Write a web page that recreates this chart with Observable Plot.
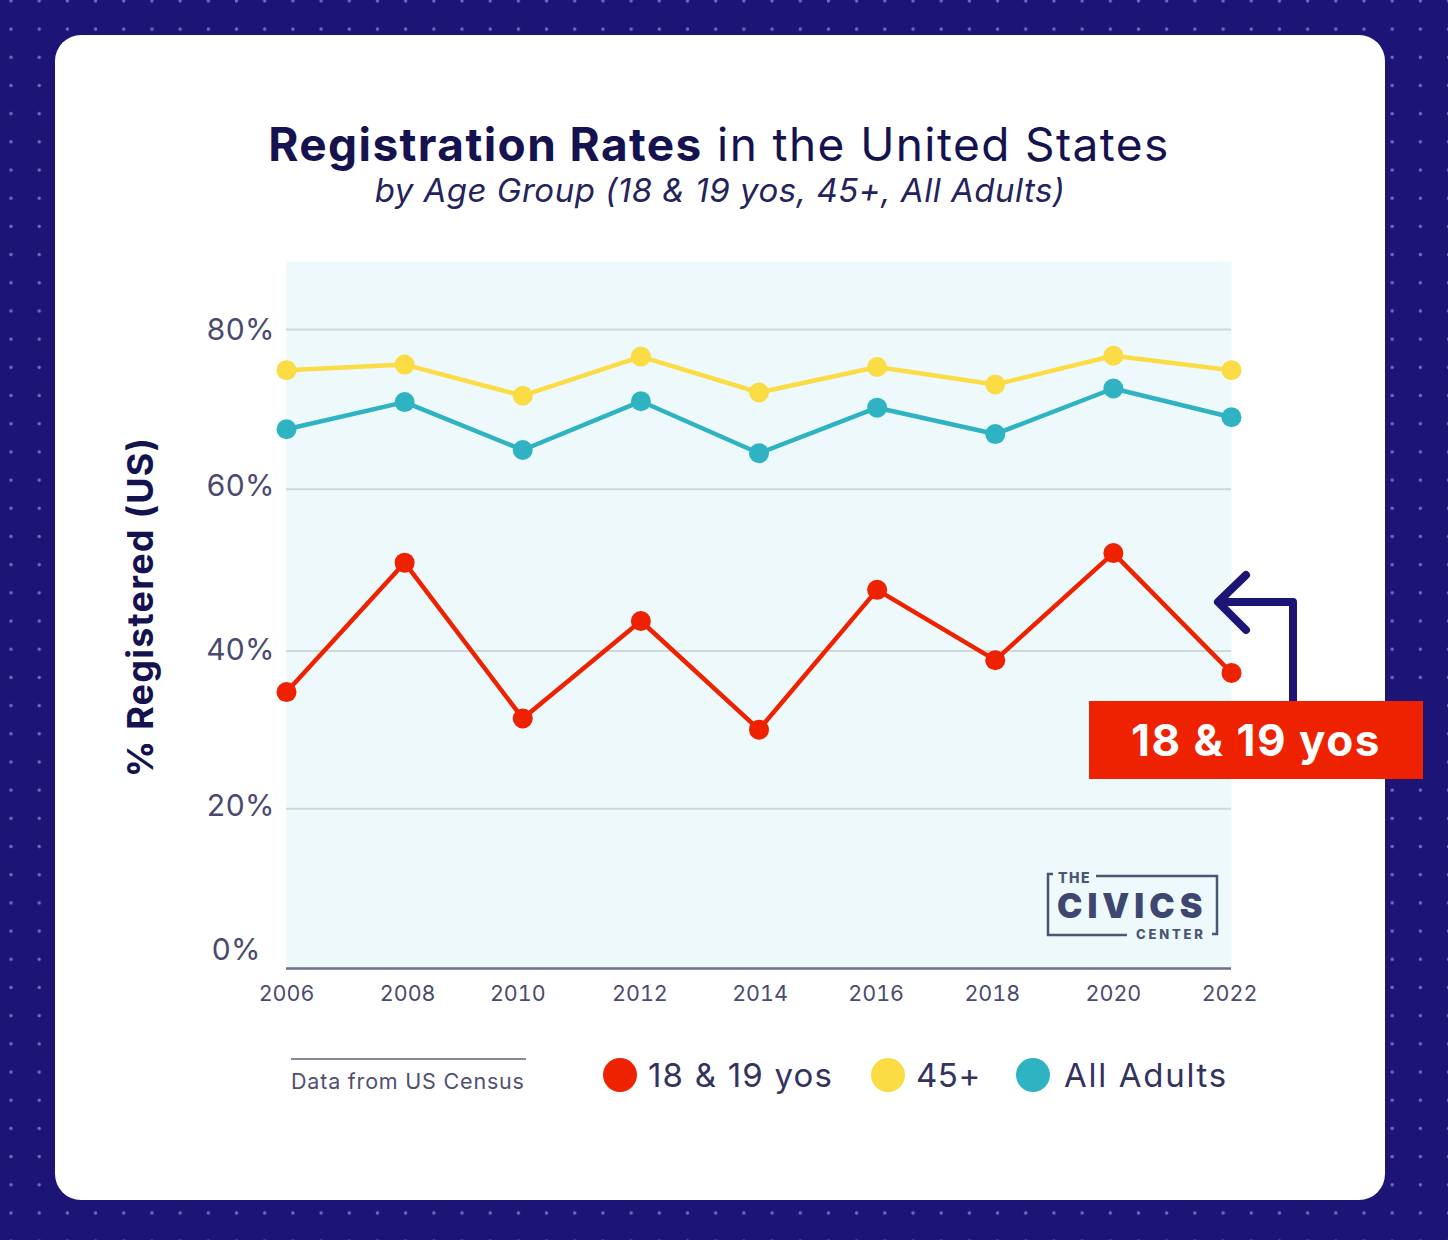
<!DOCTYPE html>
<html><head><meta charset="utf-8">
<script src="https://cdn.jsdelivr.net/npm/d3@7"></script>
<script src="https://cdn.jsdelivr.net/npm/@observablehq/plot@0.6"></script>
<style>
html,body{margin:0;padding:0}
body{width:1448px;height:1240px;position:relative;overflow:hidden;font-family:Inter,sans-serif;
background-color:#1d1575;
background-image:radial-gradient(circle at center,#746bc4 0,#746bc4 1.2px,rgba(116,107,196,0) 2.2px);
background-size:28.2px 28.2px;background-position:-3.1px -13.2px}
#card{position:absolute;left:55px;top:35px;width:1330px;height:1165px;background:#fff;border-radius:26px}
#chart{position:absolute;left:0;top:0}
#chart svg{display:block;background:transparent}
.abs{position:absolute;white-space:nowrap}
#title{left:0;width:1438px;top:117px;text-align:center;font-size:46px;line-height:54px;color:#15134f;letter-spacing:1.4px}
#title b{font-weight:700}
#subtitle{left:0;width:1440px;top:170px;text-align:center;font-size:33px;line-height:40px;font-style:italic;color:#25235c;letter-spacing:.5px}
#ylabel{left:140px;top:607px;transform:translate(-50%,-50%) rotate(-90deg);font-size:36px;font-weight:700;color:#15134f;letter-spacing:1.2px}
#callout{left:1089px;top:701px;width:334px;height:78px;background:#ee2200;color:#fff;font-weight:700;font-size:44px;line-height:78px;text-align:center;letter-spacing:1.5px}
#source{left:291px;top:1058px;width:235px;border-top:2px solid #8a8a96;padding-top:8px;font-size:21.5px;color:#50506f;letter-spacing:.8px}
.leg{top:1053px;font-size:33px;line-height:44px;color:#33335e;letter-spacing:1.2px}
.sw{position:absolute;top:1058px;width:34px;height:34px;border-radius:50%}
#arrow,#logo{position:absolute;left:0;top:0;overflow:visible}
</style></head>
<body>
<div id="card"></div>
<div id="chart"></div>
<div class="abs" id="title"><b>Registration Rates</b> in the United States</div>
<div class="abs" id="subtitle">by Age Group (18 &amp; 19 yos, 45+, All Adults)</div>
<div class="abs" id="ylabel">% Registered (US)</div>
<svg id="arrow" width="1448" height="1240"><path d="M1293 701V602H1222M1246 575L1218 602L1246 630" fill="none" stroke="#1d1575" stroke-width="8" stroke-linejoin="round" stroke-linecap="round"/></svg>
<div class="abs" id="callout">18 &amp; 19 yos</div>
<svg id="logo" width="1448" height="1240">
<path d="M1053 874H1048V935H1127M1096 876H1217V934H1212" fill="none" stroke="#4a5578" stroke-width="2.5"/>
<text x="1058" y="883" font-family="Inter" font-weight="800" font-size="14" letter-spacing="1.5" fill="#4a5578">THE</text>
<text x="1057" y="918" font-family="Inter" font-weight="900" font-size="34" letter-spacing="5" fill="#3d4770">CIVICS</text>
<text x="1136" y="939" font-family="Inter" font-weight="800" font-size="13" letter-spacing="2.8" fill="#4a5578">CENTER</text>
</svg>
<div class="abs" id="source">Data from US Census</div>
<div class="sw" style="left:603px;background:#ee2200"></div>
<div class="abs leg" style="left:648px">18 &amp; 19 yos</div>
<div class="sw" style="left:871px;background:#fbdc45"></div>
<div class="abs leg" style="left:916px;letter-spacing:.5px">45+</div>
<div class="sw" style="left:1016px;background:#2fb3c2"></div>
<div class="abs leg" style="left:1064px;letter-spacing:1.7px">All Adults</div>
<script>
const years = [2006, 2008, 2010, 2012, 2014, 2016, 2018, 2020, 2022];
const teens = [34.6, 50.8, 31.3, 43.5, 29.9, 47.4, 38.6, 52.0, 37.0];
const older = [74.9, 75.6, 71.7, 76.6, 72.1, 75.3, 73.1, 76.7, 74.9];
const adults = [67.5, 70.9, 64.9, 71.0, 64.5, 70.2, 66.9, 72.6, 69.0];
const gridTicks = [20, 40, 60, 80];
const seriesColors = {"18 & 19 yos": "#ee2200", "45+": "#fbdc45", "All Adults": "#2fb3c2"};

const table = [["45+", older], ["All Adults", adults], ["18 & 19 yos", teens]]
  .flatMap(([series, vals]) => vals.map((v, i) => ({series, year: years[i], value: v})));

const xNudge = {2006: 0, 2008: 3, 2010: -5, 2012: -1, 2014: 1, 2016: -1, 2018: -3, 2020: 0, 2022: -2};
const yNudge = {0: -18, 20: -2, 40: 1, 60: -3, 80: 1};

const plot = Plot.plot({
  width: 1448, height: 1240,
  marginLeft: 286, marginRight: 217, marginTop: 261, marginBottom: 272,
  style: {background: "transparent", fontFamily: "Inter, sans-serif"},
  x: {domain: [2006, 2022], axis: null},
  y: {domain: [0, 88.5], axis: null},
  color: {domain: Object.keys(seriesColors), range: Object.values(seriesColors)},
  marks: [
    Plot.frame({fill: "#edf9fa", stroke: "none"}),
    ...gridTicks.map(t => Plot.ruleY([t], {stroke: "#cddada", strokeWidth: 2, dy: t === 40 ? 2 : 0})),
    Plot.ruleY([0], {stroke: "#6d6d92", strokeWidth: 2.5}),
    ...years.map(y => Plot.axisX({
      ticks: [y], tickSize: 0, tickPadding: 17, tickFormat: d => String(d), label: null,
      fontSize: 21.5, fill: "#4a4a70", dx: xNudge[y]
    })),
    ...[0, ...gridTicks].map(t => Plot.axisY({
      ticks: [t], tickSize: 0, tickPadding: t === 0 ? 26 : 12, tickFormat: d => d + "%", label: null,
      fontSize: 30, fill: "#4a4a70", dy: yNudge[t]
    })),
    Plot.line(table, {x: "year", y: "value", stroke: "series", z: "series", strokeWidth: 4.5, curve: "linear"}),
    Plot.dot(table, {x: "year", y: "value", fill: "series", r: 10, stroke: "none"})
  ]
});
document.getElementById("chart").appendChild(plot);
</script>
</body></html>
